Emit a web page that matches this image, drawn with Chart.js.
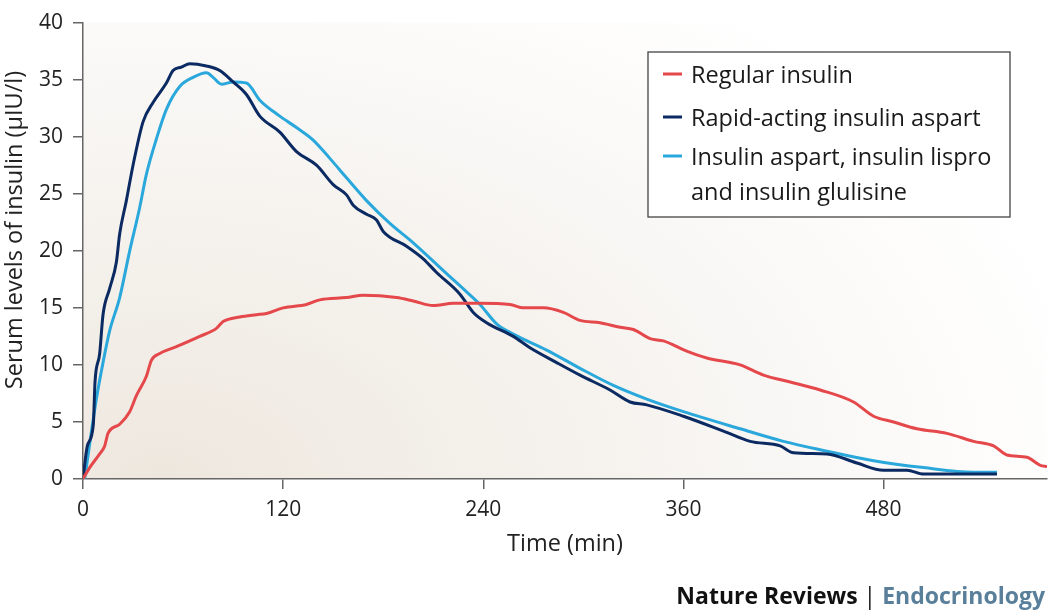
<!DOCTYPE html>
<html>
<head>
<meta charset="utf-8">
<title>Serum insulin profiles</title>
<script src="https://cdn.jsdelivr.net/npm/chart.js@4.4.0/dist/chart.umd.min.js"></script>
<style>
  html, body { margin: 0; padding: 0; background: #fff; }
  #wrap { position: relative; width: 1050px; height: 613px; }
  #footer {
    position: absolute; right: 5px; top: 579px;
    font: 700 23px "Open Sans", sans-serif; color: #111; white-space: nowrap;
  }
  #footer .bar { font-weight: 400; color: #222; }
  #footer .journal { color: #5a7f9b; }
</style>
</head>
<body>
<div id="wrap">
  <canvas id="chart" width="1050" height="613"></canvas>
  <div id="footer">Nature Reviews <span class="bar">|</span> <span class="journal">Endocrinology</span></div>
</div>
<script>
// time (min) / serum insulin (µIU/l)
const regularTime = [0, 4, 10, 13, 15, 22, 28, 32, 38, 41, 46, 56, 70, 80, 84, 94, 104, 110, 120, 134, 142, 158, 168, 188, 198, 210, 222, 238, 256, 264, 276, 288, 298, 310, 322, 330, 340, 348, 362, 374, 394, 408, 424, 442, 462, 474, 486, 500, 518, 534, 546, 554, 566, 574, 578];
const regularLevel = [0, 1.0, 2.2, 2.9, 4.0, 4.8, 5.9, 7.3, 9.0, 10.4, 11.0, 11.6, 12.5, 13.2, 13.8, 14.2, 14.4, 14.5, 15.0, 15.3, 15.7, 15.9, 16.1, 15.9, 15.6, 15.2, 15.4, 15.4, 15.3, 15.0, 15.0, 14.6, 13.9, 13.7, 13.3, 13.1, 12.3, 12.1, 11.2, 10.6, 10.0, 9.1, 8.5, 7.8, 6.75, 5.5, 5.0, 4.4, 4.0, 3.3, 2.9, 2.1, 1.9, 1.2, 1.1];

const rapidTime = [0, 2.6, 6.2, 7.2, 10, 12, 16, 20, 22, 26, 30, 36, 42, 50, 54, 59, 64, 74, 82, 90, 98, 106, 118, 128, 140, 150, 158, 162, 170, 176, 180, 194, 204, 212, 226, 234, 242, 258, 268, 284, 298, 316, 328, 338, 360, 384, 400, 418, 426, 446, 464, 480, 494, 504, 548];
const rapidLevel = [0, 2.9, 4.8, 8.5, 11.0, 14.4, 16.7, 19.0, 21.5, 24.4, 27.5, 31.3, 33.0, 34.7, 35.8, 36.1, 36.4, 36.2, 35.8, 34.8, 33.7, 31.8, 30.4, 28.7, 27.5, 25.8, 24.9, 24.0, 23.2, 22.7, 21.7, 20.4, 19.3, 18.1, 16.2, 14.6, 13.7, 12.5, 11.5, 10.2, 9.1, 7.8, 6.75, 6.5, 5.5, 4.2, 3.3, 2.9, 2.3, 2.2, 1.4, 0.77, 0.77, 0.43, 0.43];

const analogueTime = [1, 8, 12, 16, 22, 28, 34, 38, 44, 50, 58, 66, 74, 78, 83, 90, 98, 106, 118, 128, 138, 148, 158, 170, 184, 198, 218, 230, 238, 248, 258, 278, 298, 318, 338, 360, 394, 420, 444, 474, 504, 534, 548];
const analogueLevel = [0, 7.0, 10.2, 13.0, 15.9, 20.0, 23.8, 26.7, 29.8, 32.4, 34.4, 35.2, 35.6, 35.2, 34.6, 34.8, 34.7, 33.2, 31.8, 30.8, 29.7, 28.1, 26.4, 24.4, 22.4, 20.7, 18.0, 16.4, 15.3, 13.6, 12.7, 11.3, 9.7, 8.2, 7.0, 5.9, 4.4, 3.3, 2.5, 1.6, 1.0, 0.6, 0.6];

const xTicks = [0, 120, 240, 360, 480];
const yTicks = [0, 5, 10, 15, 20, 25, 30, 35, 40];

const seriesNames = [
  ['Regular insulin'],
  ['Rapid-acting insulin aspart'],
  ['Insulin aspart, insulin lispro', 'and insulin glulisine']
];
const seriesColors = ['#e5484b', '#0c2a62', '#2aa8dc'];
const yTitle = 'Serum levels of insulin (\u03bcIU/l)';

const FONT = '"Open Sans", sans-serif';

function toPoints(ts, vs) {
  return ts.map((t, i) => ({ x: t, y: vs[i] }));
}

// soft beige wash behind the plot, an ellipse fading out from the origin
const backdrop = {
  id: 'backdrop',
  beforeDraw(chart) {
    const { ctx, chartArea: a } = chart;
    const w = a.right - a.left, h = a.bottom - a.top;
    const squash = 0.62;
    ctx.save();
    ctx.translate(a.left, a.bottom);
    ctx.scale(1, squash);
    const g = ctx.createRadialGradient(80, 0, 0, 80, 0, 960);
    g.addColorStop(0, '#eee7de');
    g.addColorStop(0.3, '#f3efe9');
    g.addColorStop(0.6, '#f8f6f3');
    g.addColorStop(0.85, '#fdfcfb');
    g.addColorStop(1, '#ffffff');
    ctx.fillStyle = g;
    ctx.fillRect(0, -h / squash, w, h / squash);
    ctx.restore();
  }
};

// rotated y title, sitting a little above the axis middle as in the figure
const sideTitle = {
  id: 'sideTitle',
  afterDraw(chart) {
    const ctx = chart.ctx;
    ctx.save();
    ctx.translate(15, 230);
    ctx.rotate(-Math.PI / 2);
    ctx.font = '23.5px ' + FONT;
    ctx.fillStyle = '#222';
    ctx.textAlign = 'center';
    ctx.textBaseline = 'middle';
    ctx.fillText(yTitle, 0, 0);
    ctx.restore();
  }
};

// boxed legend in the upper right, with a two-line last entry
const boxLegend = {
  id: 'boxLegend',
  afterDraw(chart) {
    const ctx = chart.ctx;
    const box = { x: 648, y: 52, w: 362, h: 165 };
    const rows = [[76], [119], [158, 193]];
    ctx.save();
    ctx.fillStyle = '#fff';
    ctx.fillRect(box.x, box.y, box.w, box.h);
    ctx.strokeStyle = '#444';
    ctx.lineWidth = 1.3;
    ctx.strokeRect(box.x, box.y, box.w, box.h);
    ctx.font = '23.5px ' + FONT;
    ctx.textBaseline = 'middle';
    ctx.fillStyle = '#1a1a1a';
    chart.data.datasets.forEach((ds, i) => {
      const y = rows[i][0];
      ctx.strokeStyle = ds.borderColor;
      ctx.lineWidth = 3;
      ctx.beginPath();
      ctx.moveTo(663, y - 2);
      ctx.lineTo(682, y - 2);
      ctx.stroke();
      seriesNames[i].forEach((line, j) => {
        ctx.fillText(line, 691, rows[i][j]);
      });
    });
    ctx.restore();
  }
};

const axisColor = '#666';

new Chart(document.getElementById('chart'), {
  type: 'line',
  data: {
    datasets: [
      { label: seriesNames[0].join(' '), data: toPoints(regularTime, regularLevel), borderColor: seriesColors[0] },
      { label: seriesNames[1].join(' '), data: toPoints(rapidTime, rapidLevel), borderColor: seriesColors[1] },
      { label: seriesNames[2].join(' '), data: toPoints(analogueTime, analogueLevel), borderColor: seriesColors[2] }
    ].map(ds => Object.assign(ds, {
      borderWidth: 3,
      pointRadius: 0,
      fill: false,
      cubicInterpolationMode: 'monotone'
    }))
  },
  options: {
    responsive: false,
    animation: false,
    layout: { padding: { top: 11, right: 3, bottom: 51, left: 0 } },
    plugins: {
      legend: { display: false },
      tooltip: { enabled: false }
    },
    scales: {
      x: {
        type: 'linear',
        min: 0,
        max: 578,
        afterBuildTicks: s => { s.ticks = xTicks.map(v => ({ value: v })); },
        afterFit: s => { s.height = 83; },
        grid: { drawOnChartArea: false, drawTicks: true, tickLength: 10, color: axisColor, lineWidth: 1.5 },
        border: { color: axisColor, width: 1.5 },
        ticks: { color: '#222', padding: 8, font: { family: FONT, size: 21 } },
        title: { display: true, text: 'Time (min)', color: '#222', font: { family: FONT, size: 23.5 }, padding: { top: 2, bottom: 4 } }
      },
      y: {
        min: 0,
        max: 40,
        afterBuildTicks: s => { s.ticks = yTicks.map(v => ({ value: v })); },
        afterFit: s => { s.width = 83; },
        grid: { drawOnChartArea: false, drawTicks: true, tickLength: 10, color: axisColor, lineWidth: 1.5 },
        border: { color: axisColor, width: 1.5 },
        ticks: { color: '#222', padding: 10, font: { family: FONT, size: 21 } }
      }
    }
  },
  plugins: [backdrop, sideTitle, boxLegend]
});
</script>
</body>
</html>
